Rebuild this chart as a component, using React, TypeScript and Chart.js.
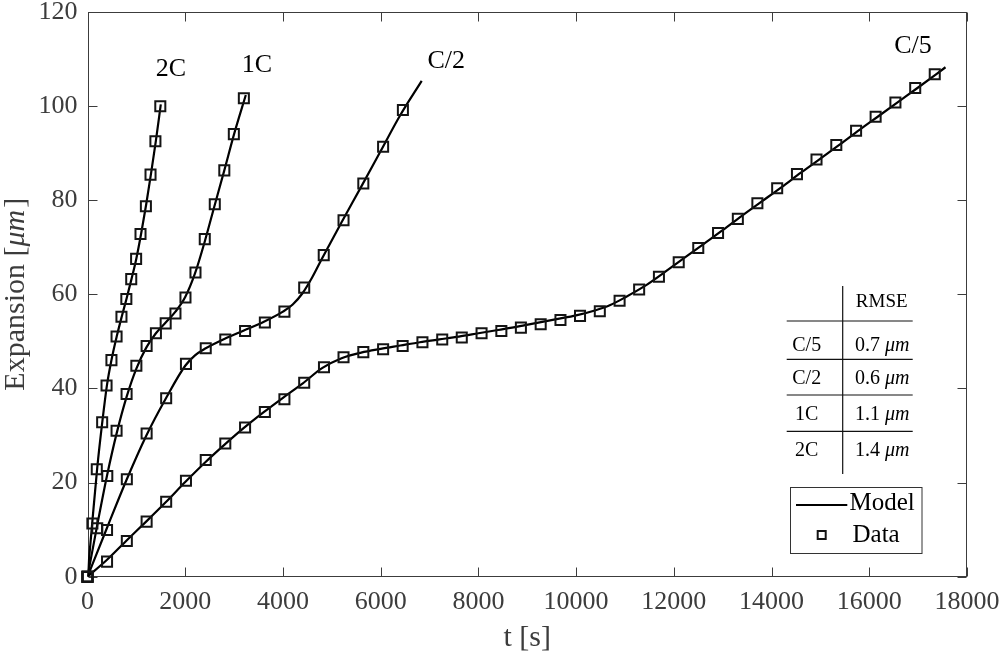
import React, { useEffect, useRef } from "react";
import { Chart, registerables } from "chart.js";

Chart.register(...registerables);

// ---------- data ----------
const X_TICKS = [0, 2000, 4000, 6000, 8000, 10000, 12000, 14000, 16000, 18000];
const Y_TICKS = [0, 20, 40, 60, 80, 100, 120];

// C/5
const c5DataT = [0, 400, 805, 1210, 1610, 2015, 2420, 2820, 3225, 3630, 4030, 4435, 4840, 5240, 5645, 6050, 6450, 6855, 7260, 7660, 8065, 8470, 8870, 9275, 9680, 10080, 10485, 10890, 11290, 11695, 12100, 12500, 12905, 13310, 13710, 14115, 14520, 14920, 15325, 15730, 16130, 16535, 16940, 17340];
const c5DataE = [0, 3.2, 7.6, 11.7, 15.9, 20.4, 24.8, 28.3, 31.7, 35.0, 37.7, 41.2, 44.5, 46.6, 47.7, 48.3, 49.0, 49.8, 50.4, 50.8, 51.7, 52.2, 52.9, 53.6, 54.5, 55.4, 56.4, 58.6, 61.0, 63.7, 66.8, 69.8, 73.0, 76.0, 79.3, 82.5, 85.5, 88.6, 91.7, 94.7, 97.7, 100.7, 103.8, 106.7];
const c5ModelT = [0, 400, 800, 1200, 1600, 2000, 2400, 2800, 3200, 3600, 4000, 4400, 4800, 5200, 5600, 6000, 6400, 6800, 7200, 7600, 8000, 8400, 8800, 9200, 9600, 10000, 10400, 10700, 11000, 11400, 11800, 12200, 12600, 13000, 13400, 13800, 14200, 14600, 15000, 15400, 15800, 16200, 16600, 17000, 17560];
const c5ModelE = [0, 3.6, 7.7, 11.7, 15.8, 20.1, 24.2, 28.0, 31.6, 34.9, 38.0, 41.0, 44.3, 46.4, 47.6, 48.4, 49.1, 49.8, 50.4, 51.0, 51.7, 52.4, 53.1, 53.9, 54.7, 55.5, 56.6, 57.7, 59.3, 61.7, 64.6, 67.6, 70.6, 73.6, 76.7, 79.7, 82.7, 85.8, 88.8, 91.8, 94.9, 97.9, 100.9, 103.9, 108.2];

// C/2
const c2DataT = [0, 400, 805, 1210, 1610, 2015, 2420, 2820, 3225, 3630, 4030, 4435, 4835, 5240, 5645, 6050, 6455];
const c2DataE = [0, 9.9, 20.7, 30.4, 37.9, 45.2, 48.5, 50.4, 52.2, 54.0, 56.3, 61.4, 68.3, 75.7, 83.5, 91.3, 99.1];
const c2ModelT = [0, 400, 800, 1200, 1600, 2000, 2200, 2400, 2800, 3200, 3600, 4000, 4200, 4400, 4600, 4800, 5200, 5600, 6000, 6400, 6840];
const c2ModelE = [0, 10.4, 20.6, 29.9, 37.8, 44.8, 47.0, 48.4, 50.5, 52.3, 54.1, 56.3, 57.8, 60.2, 63.6, 67.6, 75.3, 82.8, 90.4, 98.0, 105.3];

// 1C
const c1DataT = [0, 200, 405, 595, 800, 1000, 1210, 1400, 1600, 1800, 2005, 2210, 2400, 2605, 2800, 2995, 3200];
const c1DataE = [0, 10.3, 21.4, 31.0, 38.8, 44.8, 49.0, 51.7, 53.8, 55.9, 59.3, 64.6, 71.7, 79.1, 86.3, 94.0, 101.6];
const c1ModelT = [0, 200, 400, 600, 800, 1000, 1200, 1400, 1600, 1800, 2000, 2200, 2400, 2600, 2800, 3000, 3240];
const c1ModelE = [0, 11.0, 21.5, 30.6, 38.2, 44.2, 48.6, 51.7, 54.0, 56.3, 59.4, 64.4, 71.2, 78.8, 86.3, 94.0, 102.3];

// 2C
const c2CDataT = [0, 100, 190, 300, 390, 490, 595, 695, 795, 895, 995, 1085, 1195, 1290, 1390, 1490];
const c2CDataE = [0, 11.3, 22.8, 32.8, 40.6, 46.0, 51.0, 55.2, 59.0, 63.2, 67.5, 72.8, 78.7, 85.4, 92.5, 99.9];
const c2CModelT = [0, 100, 200, 300, 400, 500, 600, 700, 800, 900, 1000, 1100, 1200, 1300, 1400, 1500];
const c2CModelE = [0, 11.8, 23.2, 32.6, 40.8, 46.5, 51.1, 55.2, 59.1, 63.2, 67.6, 73.0, 79.0, 85.6, 92.6, 100.3];

// curve labels (data coordinates)
const curveLabels = ["2C", "1C", "C/2", "C/5"];
const curveLabelT = [1709, 3469, 7343, 16895];
const curveLabelE = [107.8, 108.7, 109.5, 112.7];

// RMSE table
const rmseRates = ["C/5", "C/2", "1C", "2C"];
const rmseValues = ["0.7", "0.6", "1.1", "1.4"];

const legendLabels = ["Model", "Data"];

// ---------- styling ----------
const FONT = "'Liberation Serif', 'Times New Roman', serif";
const AXIS_GRAY = "#3c3c3c";

const pts = (t: number[], e: number[]) => t.map((v, i) => ({ x: v, y: e[i] }));

const modelDs = (t: number[], e: number[]) => ({
  type: "line" as const,
  data: pts(t, e),
  borderColor: "#000",
  borderWidth: 2.2,
  pointRadius: 0,
  fill: false,
  cubicInterpolationMode: "monotone" as const,
  order: 2,
});

const dataDs = (t: number[], e: number[]) => ({
  type: "scatter" as const,
  data: pts(t, e),
  showLine: false,
  pointStyle: "rect" as const,
  pointRadius: 7.1,
  pointBorderWidth: 2,
  pointBorderColor: "#141414",
  pointBackgroundColor: "rgba(0,0,0,0)",
  borderColor: "#141414",
  backgroundColor: "rgba(0,0,0,0)",
  clip: false as const,
  order: 1,
});

const decorPlugin = {
  id: "decor",
  beforeDatasetsDraw(chart: any) {
    const { ctx, chartArea: a, scales } = chart;
    const xs = scales.x;
    const ys = scales.y;
    ctx.save();
    ctx.strokeStyle = AXIS_GRAY;
    ctx.lineWidth = 1;
    const L = Math.round(a.left) + 0.5;
    const R = Math.round(a.right) - 0.5;
    const T = Math.round(a.top) + 0.5;
    const B = Math.round(a.bottom) - 0.5;
    ctx.strokeRect(L, T, R - L, B - T);
    const tl = 9;
    ctx.beginPath();
    X_TICKS.forEach((v) => {
      const px = Math.round(xs.getPixelForValue(v)) + 0.5;
      ctx.moveTo(px, B);
      ctx.lineTo(px, B - tl);
      ctx.moveTo(px, T);
      ctx.lineTo(px, T + tl);
    });
    Y_TICKS.forEach((v) => {
      const py = Math.round(ys.getPixelForValue(v)) + 0.5;
      ctx.moveTo(L, py);
      ctx.lineTo(L + tl, py);
      ctx.moveTo(R, py);
      ctx.lineTo(R - tl, py);
    });
    ctx.stroke();
    ctx.restore();
  },
  afterDatasetsDraw(chart: any) {
    const { ctx, chartArea: a, scales } = chart;
    const xs = scales.x;
    const ys = scales.y;
    ctx.save();

    // axis titles
    ctx.fillStyle = AXIS_GRAY;
    ctx.textBaseline = "alphabetic";
    ctx.font = `30px ${FONT}`;
    ctx.textAlign = "center";
    ctx.fillText("t [s]", (a.left + a.right) / 2, 645.5);

    // y title with italic unit
    const partA = "Expansion [";
    const partB = "\u03bcm";
    const partC = "]";
    const fN = `30px ${FONT}`;
    const fI = `italic 30px ${FONT}`;
    ctx.font = fN;
    const wA = ctx.measureText(partA).width;
    const wC = ctx.measureText(partC).width;
    ctx.font = fI;
    const wB = ctx.measureText(partB).width + 2;
    const total = wA + wB + wC;
    ctx.save();
    ctx.translate(24, (a.top + a.bottom) / 2);
    ctx.rotate(-Math.PI / 2);
    ctx.textAlign = "left";
    let x0 = -total / 2;
    ctx.font = fN;
    ctx.fillText(partA, x0, 0);
    x0 += wA;
    ctx.font = fI;
    ctx.fillText(partB, x0, 0);
    x0 += wB;
    ctx.font = fN;
    ctx.fillText(partC, x0, 0);
    ctx.restore();

    // curve labels
    ctx.fillStyle = "#000";
    ctx.font = `26px ${FONT}`;
    ctx.textAlign = "center";
    ctx.textBaseline = "middle";
    curveLabels.forEach((lab, i) => {
      ctx.fillText(lab, xs.getPixelForValue(curveLabelT[i]), ys.getPixelForValue(curveLabelE[i]));
    });

    // RMSE table
    ctx.strokeStyle = "#111";
    ctx.lineWidth = 1.2;
    ctx.beginPath();
    ctx.moveTo(842.7, 286);
    ctx.lineTo(842.7, 474);
    [321, 359.3, 395, 431.3].forEach((y) => {
      ctx.moveTo(786.7, y);
      ctx.lineTo(912.7, y);
    });
    ctx.stroke();
    ctx.fillStyle = "#000";
    ctx.font = `19px ${FONT}`;
    ctx.textBaseline = "middle";
    ctx.textAlign = "center";
    ctx.fillText("RMSE", 881.7, 302.5);
    const rowY = [345.3, 379, 415, 450.3];
    rmseRates.forEach((r, i) => {
      ctx.font = `20px ${FONT}`;
      ctx.textAlign = "center";
      ctx.fillText(r, 806.7, rowY[i]);
      const num = rmseValues[i] + " ";
      const fn = `20px ${FONT}`;
      const fi = `italic 20px ${FONT}`;
      ctx.font = fn;
      const w1 = ctx.measureText(num).width;
      ctx.font = fi;
      const w2 = ctx.measureText("\u03bcm").width;
      let sx = 882.3 - (w1 + w2) / 2;
      ctx.textAlign = "left";
      ctx.font = fn;
      ctx.fillText(num, sx, rowY[i]);
      sx += w1;
      ctx.font = fi;
      ctx.fillText("\u03bcm", sx, rowY[i]);
    });

    // legend
    ctx.fillStyle = "#fff";
    ctx.fillRect(790.5, 487.5, 131.5, 66);
    ctx.strokeStyle = "#333";
    ctx.lineWidth = 1;
    ctx.strokeRect(790.5, 487.5, 131.5, 66);
    ctx.strokeStyle = "#000";
    ctx.lineWidth = 2.2;
    ctx.beginPath();
    ctx.moveTo(796, 505);
    ctx.lineTo(847.3, 505);
    ctx.stroke();
    ctx.lineWidth = 2;
    ctx.strokeStyle = "#141414";
    ctx.strokeRect(821.7 - 4, 535 - 4, 8, 8);
    ctx.fillStyle = "#000";
    ctx.font = `25px ${FONT}`;
    ctx.textAlign = "left";
    ctx.textBaseline = "middle";
    ctx.fillText(legendLabels[0], 849.5, 503.5);
    ctx.fillText(legendLabels[1], 852.5, 535.5);

    ctx.restore();
  },
};

export default function App() {
  const ref = useRef<HTMLCanvasElement>(null);
  useEffect(() => {
    document.body.style.margin = "0";
    const canvas = ref.current;
    if (!canvas) return;
    const chart = new Chart(canvas, {
      type: "scatter",
      data: {
        datasets: [
          modelDs(c5ModelT, c5ModelE),
          modelDs(c2ModelT, c2ModelE),
          modelDs(c1ModelT, c1ModelE),
          modelDs(c2CModelT, c2CModelE),
          dataDs(c5DataT, c5DataE),
          dataDs(c2DataT, c2DataE),
          dataDs(c1DataT, c1DataE),
          dataDs(c2CDataT, c2CDataE),
        ] as any,
      },
      options: {
        animation: false,
        responsive: true,
        maintainAspectRatio: false,
        devicePixelRatio: 1,
        layout: { padding: { top: 11.7, right: 33, left: 0, bottom: 0 } },
        plugins: {
          legend: { display: false },
          tooltip: { enabled: false },
        },
        events: [],
        scales: {
          x: {
            type: "linear",
            min: 0,
            max: 18000,
            afterBuildTicks: (s: any) => {
              s.ticks = X_TICKS.map((v) => ({ value: v }));
            },
            afterFit: (s: any) => {
              s.height = 653 - 576.7;
              s.paddingLeft = 0;
              s.paddingRight = 0;
            },
            grid: { display: false, drawTicks: false },
            border: { display: false },
            ticks: {
              autoSkip: false,
              maxRotation: 0,
              padding: 10,
              color: AXIS_GRAY,
              font: { family: FONT, size: 26 },
              callback: (v: any) => String(v),
            },
          },
          y: {
            type: "linear",
            min: 0,
            max: 120,
            afterBuildTicks: (s: any) => {
              s.ticks = Y_TICKS.map((v) => ({ value: v }));
            },
            afterFit: (s: any) => {
              s.width = 87.5;
              s.paddingTop = 0;
              s.paddingBottom = 0;
            },
            grid: { display: false, drawTicks: false },
            border: { display: false },
            ticks: {
              autoSkip: false,
              padding: 10,
              color: AXIS_GRAY,
              font: { family: FONT, size: 26 },
              callback: (v: any) => String(v),
            },
          },
        },
      },
      plugins: [decorPlugin],
    });
    return () => chart.destroy();
  }, []);
  return (
    <div style={{ position: "fixed", left: 0, top: 0, width: 1000, height: 653, background: "#fff" }}>
      <canvas ref={ref} />
    </div>
  );
}
